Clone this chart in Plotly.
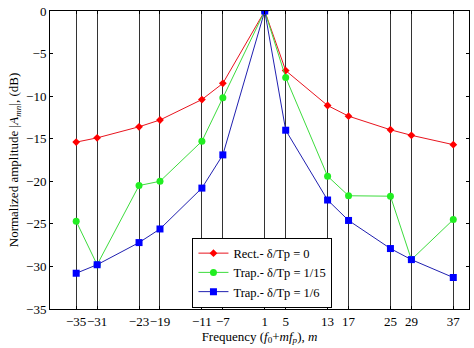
import plotly.graph_objects as go

m_vals = [-35, -31, -23, -19, -11, -7, 1, 5, 13, 17, 25, 29, 37]
rect_0 = [-15.4, -14.9, -13.6, -12.8, -10.4, -8.5, 0, -7.0, -11.1, -12.35, -13.95, -14.6, -15.7]
trap_1_15 = [-24.7, -29.8, -20.5, -20.0, -15.3, -10.2, 0, -7.8, -19.4, -21.7, -21.75, -29.2, -24.5]
trap_1_6 = [-30.8, -29.8, -27.2, -25.6, -20.8, -16.9, 0, -14.0, -22.2, -24.6, -27.9, -29.2, -31.3]
y_ticks = [0, -5, -10, -15, -20, -25, -30, -35]

font_family = "Liberation Serif"

fig = go.Figure()
fig.add_trace(go.Scatter(x=m_vals, y=rect_0, mode="lines+markers",
                         name="Rect.- δ/Tp = 0",
                         line=dict(color="#e8141e", width=1),
                         marker=dict(symbol="diamond", size=6, color="#ff0000")))
fig.add_trace(go.Scatter(x=m_vals, y=trap_1_15, mode="lines+markers",
                         name="Trap.- δ/Tp = 1/15",
                         line=dict(color="#3ddc3d", width=1),
                         marker=dict(symbol="circle", size=7, color="#22ee22")))
fig.add_trace(go.Scatter(x=m_vals, y=trap_1_6, mode="lines+markers",
                         name="Trap.- δ/Tp = 1/6",
                         line=dict(color="#2020b0", width=1),
                         marker=dict(symbol="square", size=7, color="#0000ff")))

fig.update_layout(
    width=474, height=348,
    margin=dict(l=50, r=4, t=5, b=39),
    paper_bgcolor="white", plot_bgcolor="white",
    font=dict(family=font_family, size=13, color="black"),
    showlegend=True,
    legend=dict(x=0.34, y=0.005, xanchor="left", yanchor="bottom",
                bgcolor="white", bordercolor="black", borderwidth=1,
                font=dict(family=font_family, size=12.5),
                tracegroupgap=0, itemwidth=30),
)
fig.update_xaxes(
    range=[-40, 40], tickmode="array", tickvals=m_vals,
    ticktext=[("−" + str(-v)) if v < 0 else str(v) for v in m_vals],
    tickangle=0, ticklabeloverflow="allow",
    tickfont=dict(family=font_family, size=13),
    showgrid=True, gridcolor="#333333", gridwidth=1,
    zeroline=False, showline=True, linecolor="black", linewidth=1,
    mirror="ticks", ticks="inside", ticklen=3, tickcolor="black",
    title=dict(text="Frequency (<i>f</i><sub>0</sub>+<i>mf</i><sub><i>p</i></sub>), <i>m</i>",
               standoff=0, font=dict(family=font_family, size=13)),
)
fig.update_yaxes(
    range=[-35, 0], tickmode="array", tickvals=y_ticks,
    ticklabeloverflow="allow",
    tickfont=dict(family=font_family, size=13),
    showgrid=False, zeroline=False, showline=True, linecolor="black", linewidth=1,
    mirror="ticks", ticks="inside", ticklen=3, tickcolor="black",
    title=dict(text="Normalized amplitude |<i>A</i><sub><i>mn</i></sub>|, (dB)",
               standoff=4, font=dict(family=font_family, size=13)),
)

fig.write_html("out.html")
